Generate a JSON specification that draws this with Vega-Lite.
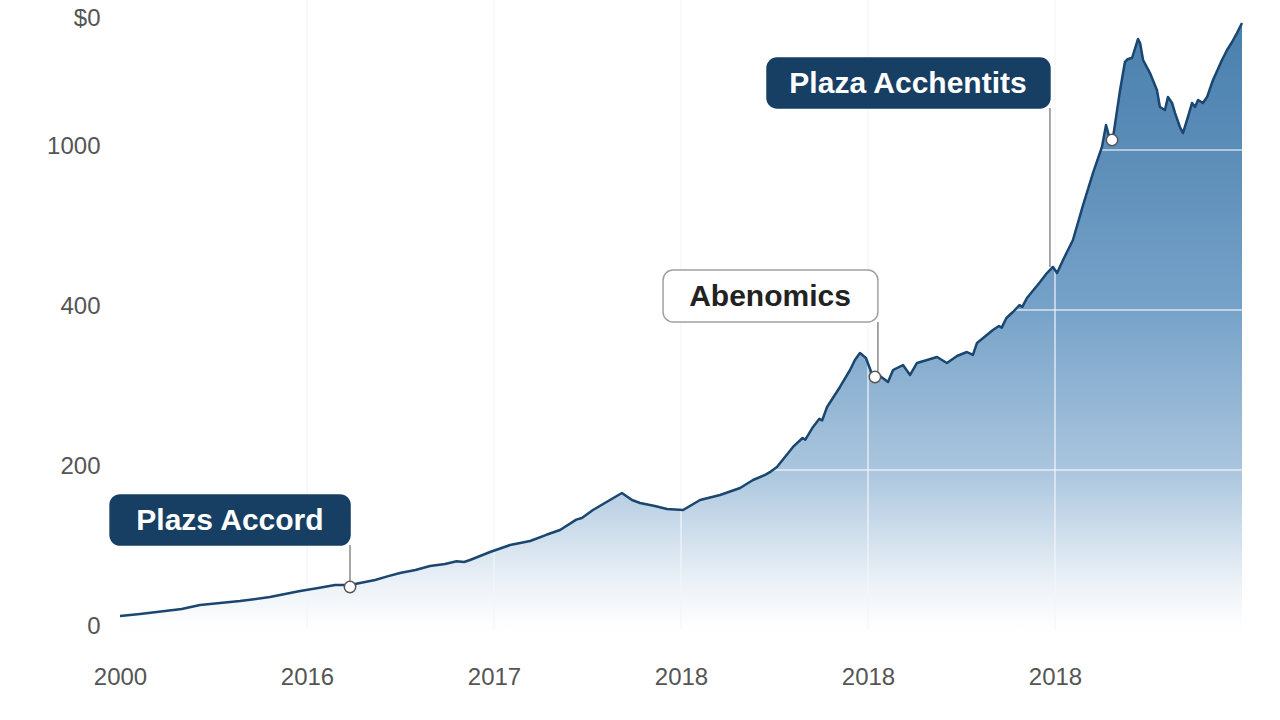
{
  "$schema": "https://vega.github.io/schema/vega-lite/v6.json",
  "width": 1122,
  "height": 630,
  "autosize": {"type": "none"},
  "padding": {"left": 120, "top": 0, "right": 38, "bottom": 90},
  "background": "#ffffff",
  "config": {"view": {"stroke": null}, "font": "Liberation Sans"},
  "datasets": {
    "series": [
      {"t": 0.000, "v": 0.0875}, {"t": 0.107, "v": 0.100}, {"t": 0.241, "v": 0.119}, {"t": 0.330, "v": 0.131}, {"t": 0.428, "v": 0.156},
      {"t": 0.642, "v": 0.181}, {"t": 0.802, "v": 0.206}, {"t": 0.963, "v": 0.244}, {"t": 1.060, "v": 0.262}, {"t": 1.150, "v": 0.281},
      {"t": 1.230, "v": 0.281}, {"t": 1.364, "v": 0.3125}, {"t": 1.430, "v": 0.335}, {"t": 1.497, "v": 0.356}, {"t": 1.580, "v": 0.375}, {"t": 1.658, "v": 0.400},
      {"t": 1.738, "v": 0.4125}, {"t": 1.800, "v": 0.430}, {"t": 1.840, "v": 0.425}, {"t": 1.872, "v": 0.4375}, {"t": 1.979, "v": 0.4875}, {"t": 2.086, "v": 0.531},
      {"t": 2.193, "v": 0.556}, {"t": 2.280, "v": 0.595}, {"t": 2.353, "v": 0.625}, {"t": 2.440, "v": 0.690}, {"t": 2.470, "v": 0.700}, {"t": 2.529, "v": 0.750}, {"t": 2.620, "v": 0.8125},
      {"t": 2.684, "v": 0.856}, {"t": 2.738, "v": 0.8125}, {"t": 2.781, "v": 0.794}, {"t": 2.860, "v": 0.775}, {"t": 2.925, "v": 0.756},
      {"t": 3.011, "v": 0.750}, {"t": 3.102, "v": 0.8125}, {"t": 3.209, "v": 0.844}, {"t": 3.316, "v": 0.8875},
      {"t": 3.385, "v": 0.9375}, {"t": 3.450, "v": 0.970}, {"t": 3.480, "v": 0.990}, {"t": 3.513, "v": 1.019}, {"t": 3.599, "v": 1.144}, {"t": 3.650, "v": 1.200}, {"t": 3.665, "v": 1.190}, {"t": 3.706, "v": 1.269},
      {"t": 3.740, "v": 1.320}, {"t": 3.755, "v": 1.310}, {"t": 3.781, "v": 1.394}, {"t": 3.850, "v": 1.519}, {"t": 3.904, "v": 1.625}, {"t": 3.930, "v": 1.6875},
      {"t": 3.957, "v": 1.731}, {"t": 3.989, "v": 1.700}, {"t": 4.027, "v": 1.581}, {"t": 4.064, "v": 1.5875},
      {"t": 4.107, "v": 1.550}, {"t": 4.134, "v": 1.625}, {"t": 4.187, "v": 1.656}, {"t": 4.225, "v": 1.594},
      {"t": 4.262, "v": 1.669}, {"t": 4.316, "v": 1.6875}, {"t": 4.369, "v": 1.706}, {"t": 4.422, "v": 1.669},
      {"t": 4.476, "v": 1.7125}, {"t": 4.529, "v": 1.7375}, {"t": 4.561, "v": 1.719}, {"t": 4.583, "v": 1.794},
      {"t": 4.668, "v": 1.875}, {"t": 4.700, "v": 1.900}, {"t": 4.715, "v": 1.890}, {"t": 4.740, "v": 1.950}, {"t": 4.775, "v": 1.9875}, {"t": 4.810, "v": 2.030}, {"t": 4.825, "v": 2.020}, {"t": 4.850, "v": 2.075}, {"t": 4.920, "v": 2.175},
      {"t": 4.957, "v": 2.231}, {"t": 4.989, "v": 2.269}, {"t": 5.011, "v": 2.231}, {"t": 5.043, "v": 2.3125},
      {"t": 5.096, "v": 2.4375}, {"t": 5.150, "v": 2.656}, {"t": 5.203, "v": 2.856}, {"t": 5.251, "v": 3.019},
      {"t": 5.273, "v": 3.156}, {"t": 5.294, "v": 3.0625}, {"t": 5.310, "v": 3.075}, {"t": 5.348, "v": 3.375},
      {"t": 5.374, "v": 3.550}, {"t": 5.390, "v": 3.569}, {"t": 5.412, "v": 3.575}, {"t": 5.444, "v": 3.694},
      {"t": 5.455, "v": 3.669}, {"t": 5.471, "v": 3.5625}, {"t": 5.508, "v": 3.481}, {"t": 5.545, "v": 3.375},
      {"t": 5.561, "v": 3.269}, {"t": 5.588, "v": 3.250}, {"t": 5.604, "v": 3.331}, {"t": 5.626, "v": 3.294},
      {"t": 5.642, "v": 3.231}, {"t": 5.668, "v": 3.144}, {"t": 5.684, "v": 3.106}, {"t": 5.706, "v": 3.1875},
      {"t": 5.733, "v": 3.294}, {"t": 5.749, "v": 3.269}, {"t": 5.765, "v": 3.3125}, {"t": 5.791, "v": 3.294},
      {"t": 5.813, "v": 3.331}, {"t": 5.845, "v": 3.4375}, {"t": 5.893, "v": 3.5625}, {"t": 5.920, "v": 3.625},
      {"t": 5.947, "v": 3.675}, {"t": 5.973, "v": 3.731}, {"t": 6.000, "v": 3.794}
    ],
    "gridH": [{"g": 1}, {"g": 2}, {"g": 3}],
    "gridV": [{"g": 1}, {"g": 2}, {"g": 3}, {"g": 4}, {"g": 5}],
    "notes": [
      {"label": "Plazs Accord", "kind": "dark", "bx1": -0.053, "bx2": 1.230, "by1": 0.844, "by2": 0.531, "tx": 0.588, "ty": 0.681, "lx": 1.230, "ly1": 0.531, "ly2": 0.269, "px": 1.230, "py": 0.269},
      {"label": "Abenomics", "kind": "light", "bx1": 2.904, "bx2": 4.053, "by1": 2.250, "by2": 1.925, "tx": 3.476, "ty": 2.081, "lx": 4.053, "ly1": 1.925, "ly2": 1.594, "px": 4.037, "py": 1.581},
      {"label": "Plaza Acchentits", "kind": "dark", "bx1": 3.460, "bx2": 4.973, "by1": 3.575, "by2": 3.2625, "tx": 4.214, "ty": 3.4125, "lx": 4.973, "ly1": 3.2625, "ly2": 2.269, "px": 5.305, "py": 3.0625}
    ]
  },
  "layer": [
    {
      "data": {"name": "series"},
      "mark": {
        "type": "area",
        "fill": {
          "gradient": "linear", "x1": 0, "y1": 0, "x2": 0, "y2": 1,
          "stops": [
            {"offset": 0, "color": "#4a80ae"},
            {"offset": 0.21, "color": "#5b8db8"},
            {"offset": 0.47, "color": "#76a2c8"},
            {"offset": 0.74, "color": "#abc6de"},
            {"offset": 0.93, "color": "#eef3f8"},
            {"offset": 1, "color": "#ffffff"}
          ]
        }
      },
      "encoding": {
        "x": {
          "field": "t", "type": "quantitative",
          "scale": {"domain": [0, 6], "nice": false, "zero": false},
          "axis": {
            "values": [0, 1, 2, 3, 4, 5],
            "labelExpr": "['2000','2016','2017','2018','2018','2018'][round(datum.value)]",
            "title": null, "grid": false, "domain": false, "ticks": false,
            "labelPadding": 35, "labelFontSize": 24, "labelColor": "#555555",
            "labelFont": "Liberation Sans", "labelFlush": false, "labelOverlap": false
          }
        },
        "y": {
          "field": "v", "type": "quantitative",
          "scale": {"domain": [0, 3.9375], "nice": false, "zero": true},
          "axis": {
            "values": [0, 1, 2, 3, 3.8],
            "labelExpr": "datum.value == 0 ? '0' : datum.value == 1 ? '200' : datum.value == 2 ? '400' : datum.value == 3 ? '1000' : '$0'",
            "title": null, "grid": false, "domain": false, "ticks": false,
            "labelPadding": 20, "labelFontSize": 24, "labelColor": "#555555",
            "labelFont": "Liberation Sans", "labelOffset": -4, "labelFlush": false, "labelOverlap": false, "labelBound": false
          }
        }
      }
    },
    {
      "data": {"name": "gridH"},
      "mark": {"type": "rule", "color": "#ffffff", "strokeWidth": 1.5, "opacity": 0.7},
      "encoding": {"y": {"field": "g", "type": "quantitative"}}
    },
    {
      "data": {"name": "gridV"},
      "mark": {"type": "rule", "color": "#f4f6f9", "strokeWidth": 1.5, "opacity": 0.8},
      "encoding": {"x": {"field": "g", "type": "quantitative"}}
    },
    {
      "data": {"name": "series"},
      "mark": {"type": "line", "color": "#1a4670", "strokeWidth": 2.5, "strokeJoin": "round"},
      "encoding": {
        "x": {"field": "t", "type": "quantitative"},
        "y": {"field": "v", "type": "quantitative"}
      }
    },
    {
      "data": {"name": "notes"},
      "mark": {"type": "rule", "color": "#8a8a8a", "strokeWidth": 1.5},
      "encoding": {
        "x": {"field": "lx", "type": "quantitative"},
        "y": {"field": "ly1", "type": "quantitative"},
        "y2": {"field": "ly2"}
      }
    },
    {
      "data": {"name": "notes"},
      "mark": {"type": "rect", "cornerRadius": 10, "strokeWidth": 1.5},
      "encoding": {
        "x": {"field": "bx1", "type": "quantitative"},
        "x2": {"field": "bx2"},
        "y": {"field": "by1", "type": "quantitative"},
        "y2": {"field": "by2"},
        "fill": {"field": "kind", "type": "nominal", "scale": {"domain": ["dark", "light"], "range": ["#173e63", "#ffffff"]}, "legend": null},
        "stroke": {"field": "kind", "type": "nominal", "scale": {"domain": ["dark", "light"], "range": ["#173e63", "#a0a0a0"]}, "legend": null}
      }
    },
    {
      "data": {"name": "notes"},
      "mark": {"type": "text", "fontSize": 30, "fontWeight": "bold", "align": "center", "baseline": "middle", "font": "Liberation Sans"},
      "encoding": {
        "x": {"field": "tx", "type": "quantitative"},
        "y": {"field": "ty", "type": "quantitative"},
        "text": {"field": "label"},
        "color": {"field": "kind", "type": "nominal", "scale": {"domain": ["dark", "light"], "range": ["#ffffff", "#222222"]}, "legend": null}
      }
    },
    {
      "data": {"name": "notes"},
      "mark": {"type": "point", "filled": true, "fill": "#ffffff", "stroke": "#555555", "strokeWidth": 1.5, "size": 130, "opacity": 1},
      "encoding": {
        "x": {"field": "px", "type": "quantitative"},
        "y": {"field": "py", "type": "quantitative"}
      }
    }
  ]
}
